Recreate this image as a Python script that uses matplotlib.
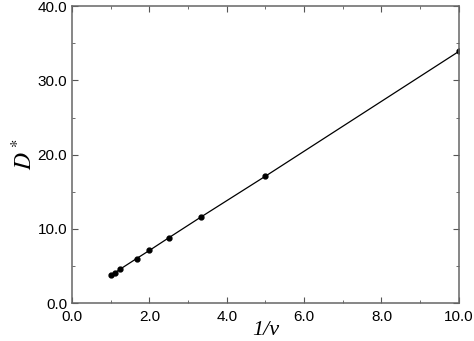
import matplotlib
matplotlib.use("Agg")
import matplotlib.pyplot as plt
from matplotlib.ticker import MultipleLocator, FormatStrFormatter

# 1/nu and reduced diffusion constant D*
inv_nu = [1.0, 1.111, 1.25, 1.667, 2.0, 2.5, 3.333, 5.0, 10.0]
d_star = [3.8, 4.1, 4.6, 6.0, 7.1, 8.8, 11.6, 17.1, 33.9]

plt.rcParams['font.family'] = ['Liberation Sans', 'DejaVu Sans']
plt.rcParams['mathtext.fontset'] = 'stix'

fig = plt.figure(figsize=(4.74, 3.41), dpi=100)
ax = fig.add_axes([0.152, 0.111, 0.816, 0.871])

ax.plot(inv_nu, d_star, '-', color='black', linewidth=0.9)
ax.plot(inv_nu, d_star, 'o', color='black', markersize=3.5)

ax.set_xlim(0, 10)
ax.set_ylim(0, 40)
ax.xaxis.set_major_locator(MultipleLocator(2))
ax.xaxis.set_minor_locator(MultipleLocator(1))
ax.yaxis.set_major_locator(MultipleLocator(10))
ax.yaxis.set_minor_locator(MultipleLocator(5))
ax.xaxis.set_major_formatter(FormatStrFormatter('%.1f'))
ax.yaxis.set_major_formatter(FormatStrFormatter('%.1f'))
ax.tick_params(which='both', direction='in', top=True, right=True, labelsize=11, color='#555555')
ax.tick_params(which='major', length=4)
ax.tick_params(which='minor', length=2.5)
ax.tick_params(axis='x', pad=5)
for s in ax.spines.values():
    s.set_color('#666666')
    s.set_linewidth(1.1)

ax.set_xlabel('1/ν', fontsize=16, family='Liberation Serif', style='italic', labelpad=-2)
ax.set_ylabel(r'$D^*$', fontsize=17, labelpad=0)

fig.savefig('out.png', dpi=100)
